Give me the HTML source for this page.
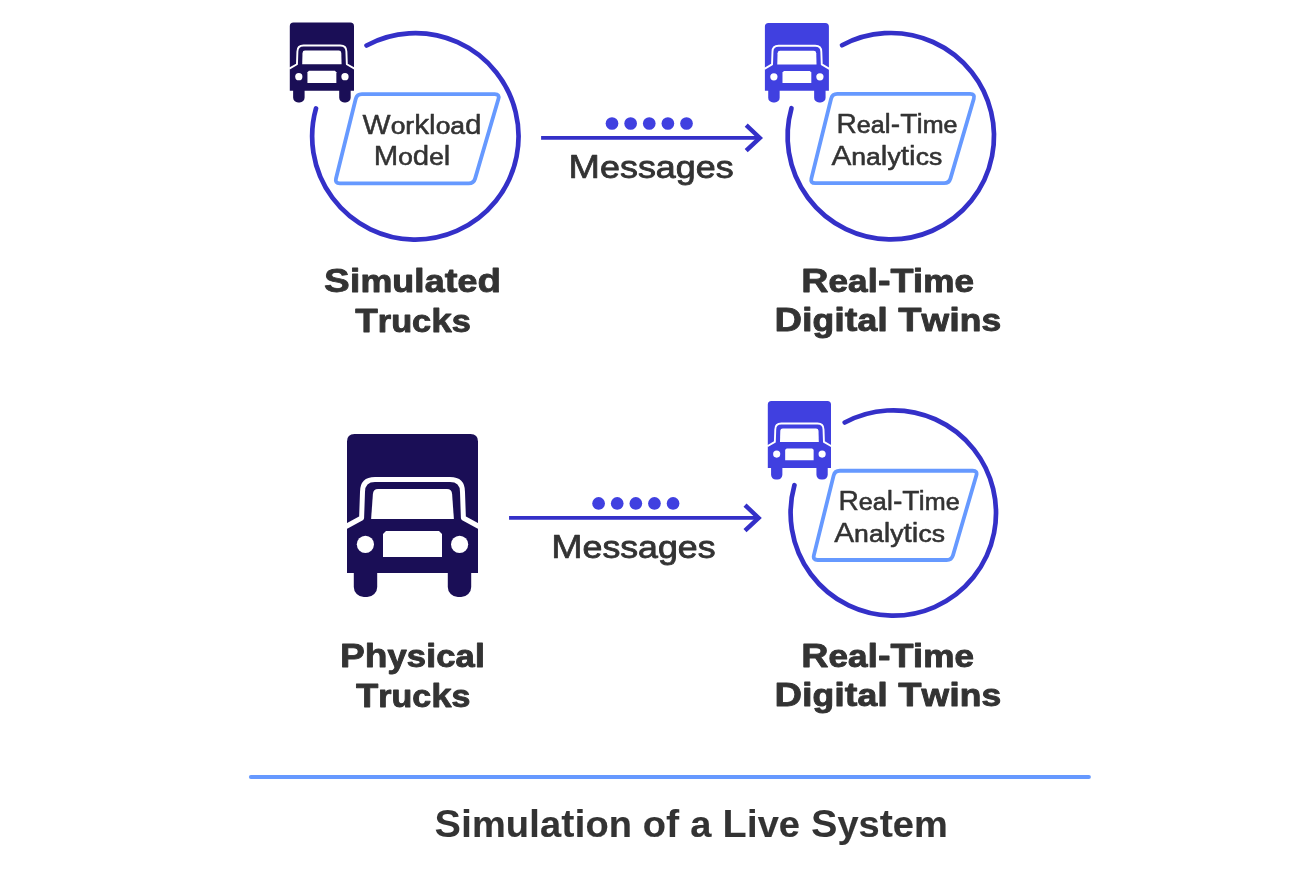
<!DOCTYPE html>
<html><head><meta charset="utf-8"><style>
html,body{margin:0;padding:0;background:#fff;width:1300px;height:869px;overflow:hidden}
svg{display:block;will-change:transform}
text{font-family:"Liberation Sans",sans-serif}
</style></head><body>
<svg width="1300" height="869" viewBox="0 0 1300 869">
<rect width="1300" height="869" fill="#fff"/>
<path fill="none" stroke="#3430c8" stroke-width="4.7" stroke-linecap="round" d="M316.00,108.47 A103.2,103.2 0 1 0 366.58,45.45"/>
<path fill="none" stroke="#3430c8" stroke-width="4.7" stroke-linecap="round" d="M791.45,108.27 A103.2,103.2 0 1 0 842.03,45.25"/>
<path fill="none" stroke="#3430c8" stroke-width="4.7" stroke-linecap="round" d="M794.43,485.21 A102.7,102.7 0 1 0 844.77,422.49"/>
<path fill="#fff" stroke="#6699ff" stroke-width="3.8" stroke-linejoin="round" d="M361.90,94.15 L494.80,94.15 Q499.80,94.15 498.40,98.95 L475.10,178.60 Q473.70,183.40 468.70,183.40 L339.80,183.40 Q334.80,183.40 336.00,178.55 L355.70,99.00 Q356.90,94.15 361.90,94.15 Z"/>
<path fill="#fff" stroke="#6699ff" stroke-width="3.8" stroke-linejoin="round" d="M837.30,93.95 L970.20,93.95 Q975.20,93.95 973.80,98.75 L950.50,178.40 Q949.10,183.20 944.10,183.20 L815.20,183.20 Q810.20,183.20 811.40,178.35 L831.10,98.80 Q832.30,93.95 837.30,93.95 Z"/>
<path fill="#fff" stroke="#6699ff" stroke-width="3.8" stroke-linejoin="round" d="M839.80,470.75 L972.70,470.75 Q977.70,470.75 976.30,475.55 L953.00,555.20 Q951.60,560.00 946.60,560.00 L817.70,560.00 Q812.70,560.00 813.90,555.15 L833.60,475.60 Q834.80,470.75 839.80,470.75 Z"/>
<g transform="translate(289.8,22.6) scale(0.4900763358778626)">
<path fill="#1a0e56" d="M0,7.5 Q0,0 7.5,0 H123.5 Q131,0 131,7.5 V138.9 H124.2 V153 A10,10 0 0 1 114.2,163 H110.8 A10,10 0 0 1 100.8,153 V138.9 H30.2 V153 A10,10 0 0 1 20.2,163 H16.8 A10,10 0 0 1 6.8,153 V138.9 H0 Z"/>
<path fill="none" stroke="#fff" stroke-width="3.9" stroke-linejoin="round" d="M-1,94.0 L14.6,85.0 L15.5,59.199999999999996 Q15.5,46.8 28,46.8 H103 Q115.5,46.8 115.5,59.199999999999996 L116.4,85.0 L132,94.0"/>
<path fill="#fff" d="M25.3,85 L25.9,62 Q26.3,57 31,57 H100 Q104.7,57 105.1,62 L105.7,85 Z"/>
<path fill="#fff" d="M36,123 V101.5 L39,98.5 H92 L95,101.5 V123 Z"/>
<circle fill="#fff" cx="18.4" cy="110.3" r="7.4"/>
<circle fill="#fff" cx="112.6" cy="110.3" r="7.4"/>
</g>
<g transform="translate(764.9,22.9) scale(0.48854961832061067)">
<path fill="#4040e0" d="M0,7.5 Q0,0 7.5,0 H123.5 Q131,0 131,7.5 V138.9 H124.2 V153 A10,10 0 0 1 114.2,163 H110.8 A10,10 0 0 1 100.8,153 V138.9 H30.2 V153 A10,10 0 0 1 20.2,163 H16.8 A10,10 0 0 1 6.8,153 V138.9 H0 Z"/>
<path fill="none" stroke="#fff" stroke-width="3.9" stroke-linejoin="round" d="M-1,94.0 L14.6,85.0 L15.5,59.199999999999996 Q15.5,46.8 28,46.8 H103 Q115.5,46.8 115.5,59.199999999999996 L116.4,85.0 L132,94.0"/>
<path fill="#fff" d="M25.3,85 L25.9,62 Q26.3,57 31,57 H100 Q104.7,57 105.1,62 L105.7,85 Z"/>
<path fill="#fff" d="M36,123 V101.5 L39,98.5 H92 L95,101.5 V123 Z"/>
<circle fill="#fff" cx="18.4" cy="110.3" r="7.4"/>
<circle fill="#fff" cx="112.6" cy="110.3" r="7.4"/>
</g>
<g transform="translate(767.8,400.9) scale(0.4824427480916031)">
<path fill="#4040e0" d="M0,7.5 Q0,0 7.5,0 H123.5 Q131,0 131,7.5 V138.9 H124.2 V153 A10,10 0 0 1 114.2,163 H110.8 A10,10 0 0 1 100.8,153 V138.9 H30.2 V153 A10,10 0 0 1 20.2,163 H16.8 A10,10 0 0 1 6.8,153 V138.9 H0 Z"/>
<path fill="none" stroke="#fff" stroke-width="3.9" stroke-linejoin="round" d="M-1,94.0 L14.6,85.0 L15.5,59.199999999999996 Q15.5,46.8 28,46.8 H103 Q115.5,46.8 115.5,59.199999999999996 L116.4,85.0 L132,94.0"/>
<path fill="#fff" d="M25.3,85 L25.9,62 Q26.3,57 31,57 H100 Q104.7,57 105.1,62 L105.7,85 Z"/>
<path fill="#fff" d="M36,123 V101.5 L39,98.5 H92 L95,101.5 V123 Z"/>
<circle fill="#fff" cx="18.4" cy="110.3" r="7.4"/>
<circle fill="#fff" cx="112.6" cy="110.3" r="7.4"/>
</g>
<g transform="translate(347,434) scale(1.0)">
<path fill="#1a0e56" d="M0,7.5 Q0,0 7.5,0 H123.5 Q131,0 131,7.5 V138.9 H124.2 V153 A10,10 0 0 1 114.2,163 H110.8 A10,10 0 0 1 100.8,153 V138.9 H30.2 V153 A10,10 0 0 1 20.2,163 H16.8 A10,10 0 0 1 6.8,153 V138.9 H0 Z"/>
<path fill="none" stroke="#fff" stroke-width="5.0" stroke-linejoin="round" d="M-1,92.5 L14.6,84 L15.5,58.0 Q15.5,45.6 28,45.6 H103 Q115.5,45.6 115.5,58.0 L116.4,84 L132,92.5"/>
<path fill="#fff" d="M24.1,85 L25.9,60 Q26.3,55 31,55 H100 Q104.7,55 105.1,60 L106.9,85 Z"/>
<path fill="#fff" d="M36,123 V100 L39,97 H92 L95,100 V123 Z"/>
<circle fill="#fff" cx="18.4" cy="110.3" r="8.6"/>
<circle fill="#fff" cx="112.6" cy="110.3" r="8.6"/>
</g>
<path fill="none" stroke="#3430c8" stroke-width="3.9" d="M541.1,137.9 H757.8"/><path fill="none" stroke="#3430c8" stroke-width="4.4" stroke-linejoin="miter" d="M746.1999999999999,125.10000000000001 L759.8,137.9 L746.1999999999999,150.70000000000002"/>
<path fill="none" stroke="#3430c8" stroke-width="3.9" d="M509.06,517.9 H756.6"/><path fill="none" stroke="#3430c8" stroke-width="4.4" stroke-linejoin="miter" d="M745.0,505.09999999999997 L758.6,517.9 L745.0,530.6999999999999"/>
<circle fill="#4040e0" cx="612.00" cy="123.5" r="6.35"/><circle fill="#4040e0" cx="630.63" cy="123.5" r="6.35"/><circle fill="#4040e0" cx="649.26" cy="123.5" r="6.35"/><circle fill="#4040e0" cx="667.89" cy="123.5" r="6.35"/><circle fill="#4040e0" cx="686.52" cy="123.5" r="6.35"/>
<circle fill="#4040e0" cx="598.60" cy="503.4" r="6.35"/><circle fill="#4040e0" cx="617.22" cy="503.4" r="6.35"/><circle fill="#4040e0" cx="635.84" cy="503.4" r="6.35"/><circle fill="#4040e0" cx="654.46" cy="503.4" r="6.35"/><circle fill="#4040e0" cx="673.08" cy="503.4" r="6.35"/>
<path stroke="#6699ff" stroke-width="4.0" stroke-linecap="round" d="M250.9,777.0 H1088.9"/>
<g fill="#333333" font-family="Liberation Sans, sans-serif">
<text x="362.6" y="133.6" font-size="27.0" font-weight="400" stroke="#333333" stroke-width="0.45" stroke-linejoin="round" textLength="119.05" lengthAdjust="spacingAndGlyphs"><tspan>W</tspan><tspan font-size="24.03" stroke-width="0.60">or</tspan><tspan>kl</tspan><tspan font-size="24.03" stroke-width="0.60">oa</tspan><tspan>d</tspan></text>
<text x="373.8" y="164.7" font-size="27.0" font-weight="400" stroke="#333333" stroke-width="0.45" stroke-linejoin="round" textLength="76.43" lengthAdjust="spacingAndGlyphs"><tspan>M</tspan><tspan font-size="24.03" stroke-width="0.60">o</tspan><tspan>d</tspan><tspan font-size="24.03" stroke-width="0.60">e</tspan><tspan>l</tspan></text>
<text x="836.4" y="132.5" font-size="27.0" font-weight="400" stroke="#333333" stroke-width="0.45" stroke-linejoin="round" textLength="121.08" lengthAdjust="spacingAndGlyphs"><tspan>R</tspan><tspan font-size="24.03" stroke-width="0.60">ea</tspan><tspan>l-Ti</tspan><tspan font-size="24.03" stroke-width="0.60">me</tspan></text>
<text x="831.4" y="164.5" font-size="27.0" font-weight="400" stroke="#333333" stroke-width="0.45" stroke-linejoin="round" textLength="110.83" lengthAdjust="spacingAndGlyphs"><tspan>A</tspan><tspan font-size="24.03" stroke-width="0.60">na</tspan><tspan>l</tspan><tspan font-size="24.03" stroke-width="0.60">y</tspan><tspan>ti</tspan><tspan font-size="24.03" stroke-width="0.60">cs</tspan></text>
<text x="838.4" y="510.4" font-size="27.0" font-weight="400" stroke="#333333" stroke-width="0.45" stroke-linejoin="round" textLength="121.32" lengthAdjust="spacingAndGlyphs"><tspan>R</tspan><tspan font-size="24.03" stroke-width="0.60">ea</tspan><tspan>l-Ti</tspan><tspan font-size="24.03" stroke-width="0.60">me</tspan></text>
<text x="834.2" y="542.2" font-size="27.0" font-weight="400" stroke="#333333" stroke-width="0.45" stroke-linejoin="round" textLength="110.86" lengthAdjust="spacingAndGlyphs"><tspan>A</tspan><tspan font-size="24.03" stroke-width="0.60">na</tspan><tspan>l</tspan><tspan font-size="24.03" stroke-width="0.60">y</tspan><tspan>ti</tspan><tspan font-size="24.03" stroke-width="0.60">cs</tspan></text>
<text x="568.6" y="177.6" font-size="33.5" font-weight="400" stroke="#333333" stroke-width="0.7" stroke-linejoin="round" textLength="164.99" lengthAdjust="spacingAndGlyphs"><tspan>M</tspan><tspan font-size="31.82" stroke-width="0.85">essages</tspan></text>
<text x="551.3" y="557.7" font-size="33.5" font-weight="400" stroke="#333333" stroke-width="0.7" stroke-linejoin="round" textLength="164.23" lengthAdjust="spacingAndGlyphs"><tspan>M</tspan><tspan font-size="31.82" stroke-width="0.85">essages</tspan></text>
<text x="324.0" y="291.6" font-size="34.0" font-weight="700" stroke="#333333" stroke-width="0.8" stroke-linejoin="round" textLength="177.08" lengthAdjust="spacingAndGlyphs"><tspan>Si</tspan><tspan font-size="31.62" stroke-width="0.95">mu</tspan><tspan>l</tspan><tspan font-size="31.62" stroke-width="0.95">a</tspan><tspan>t</tspan><tspan font-size="31.62" stroke-width="0.95">e</tspan><tspan>d</tspan></text>
<text x="355.2" y="331.5" font-size="34.0" font-weight="700" stroke="#333333" stroke-width="0.8" stroke-linejoin="round" textLength="115.67" lengthAdjust="spacingAndGlyphs"><tspan>T</tspan><tspan font-size="31.62" stroke-width="0.95">ruc</tspan><tspan>k</tspan><tspan font-size="31.62" stroke-width="0.95">s</tspan></text>
<text x="801.2" y="291.6" font-size="34.0" font-weight="700" stroke="#333333" stroke-width="0.8" stroke-linejoin="round" textLength="172.8" lengthAdjust="spacingAndGlyphs"><tspan>R</tspan><tspan font-size="31.62" stroke-width="0.95">ea</tspan><tspan>l-Ti</tspan><tspan font-size="31.62" stroke-width="0.95">me</tspan></text>
<text x="774.4" y="331.1" font-size="34.0" font-weight="700" stroke="#333333" stroke-width="0.8" stroke-linejoin="round" textLength="226.75" lengthAdjust="spacingAndGlyphs"><tspan>Di</tspan><tspan font-size="31.62" stroke-width="0.95">g</tspan><tspan>it</tspan><tspan font-size="31.62" stroke-width="0.95">a</tspan><tspan>l T</tspan><tspan font-size="31.62" stroke-width="0.95">w</tspan><tspan>i</tspan><tspan font-size="31.62" stroke-width="0.95">ns</tspan></text>
<text x="340.0" y="666.7" font-size="34.0" font-weight="700" stroke="#333333" stroke-width="0.8" stroke-linejoin="round" textLength="145.08" lengthAdjust="spacingAndGlyphs"><tspan>Ph</tspan><tspan font-size="31.62" stroke-width="0.95">ys</tspan><tspan>i</tspan><tspan font-size="31.62" stroke-width="0.95">ca</tspan><tspan>l</tspan></text>
<text x="356.0" y="706.7" font-size="34.0" font-weight="700" stroke="#333333" stroke-width="0.8" stroke-linejoin="round" textLength="114.44" lengthAdjust="spacingAndGlyphs"><tspan>T</tspan><tspan font-size="31.62" stroke-width="0.95">ruc</tspan><tspan>k</tspan><tspan font-size="31.62" stroke-width="0.95">s</tspan></text>
<text x="801.2" y="666.6" font-size="34.0" font-weight="700" stroke="#333333" stroke-width="0.8" stroke-linejoin="round" textLength="172.8" lengthAdjust="spacingAndGlyphs"><tspan>R</tspan><tspan font-size="31.62" stroke-width="0.95">ea</tspan><tspan>l-Ti</tspan><tspan font-size="31.62" stroke-width="0.95">me</tspan></text>
<text x="774.4" y="706.1" font-size="34.0" font-weight="700" stroke="#333333" stroke-width="0.8" stroke-linejoin="round" textLength="226.75" lengthAdjust="spacingAndGlyphs"><tspan>Di</tspan><tspan font-size="31.62" stroke-width="0.95">g</tspan><tspan>it</tspan><tspan font-size="31.62" stroke-width="0.95">a</tspan><tspan>l T</tspan><tspan font-size="31.62" stroke-width="0.95">w</tspan><tspan>i</tspan><tspan font-size="31.62" stroke-width="0.95">ns</tspan></text>
<text x="434.6" y="836.6" font-size="38.5" font-weight="700" stroke="#333333" stroke-width="0.0" stroke-linejoin="round" textLength="513.23" lengthAdjust="spacingAndGlyphs"><tspan>Si</tspan><tspan font-size="36.96" stroke-width="0.15">mu</tspan><tspan>l</tspan><tspan font-size="36.96" stroke-width="0.15">a</tspan><tspan>ti</tspan><tspan font-size="36.96" stroke-width="0.15">on</tspan><tspan> </tspan><tspan font-size="36.96" stroke-width="0.15">o</tspan><tspan>f </tspan><tspan font-size="36.96" stroke-width="0.15">a</tspan><tspan> Li</tspan><tspan font-size="36.96" stroke-width="0.15">ve</tspan><tspan> S</tspan><tspan font-size="36.96" stroke-width="0.15">ys</tspan><tspan>t</tspan><tspan font-size="36.96" stroke-width="0.15">em</tspan></text>
</g>
</svg>
</body></html>
